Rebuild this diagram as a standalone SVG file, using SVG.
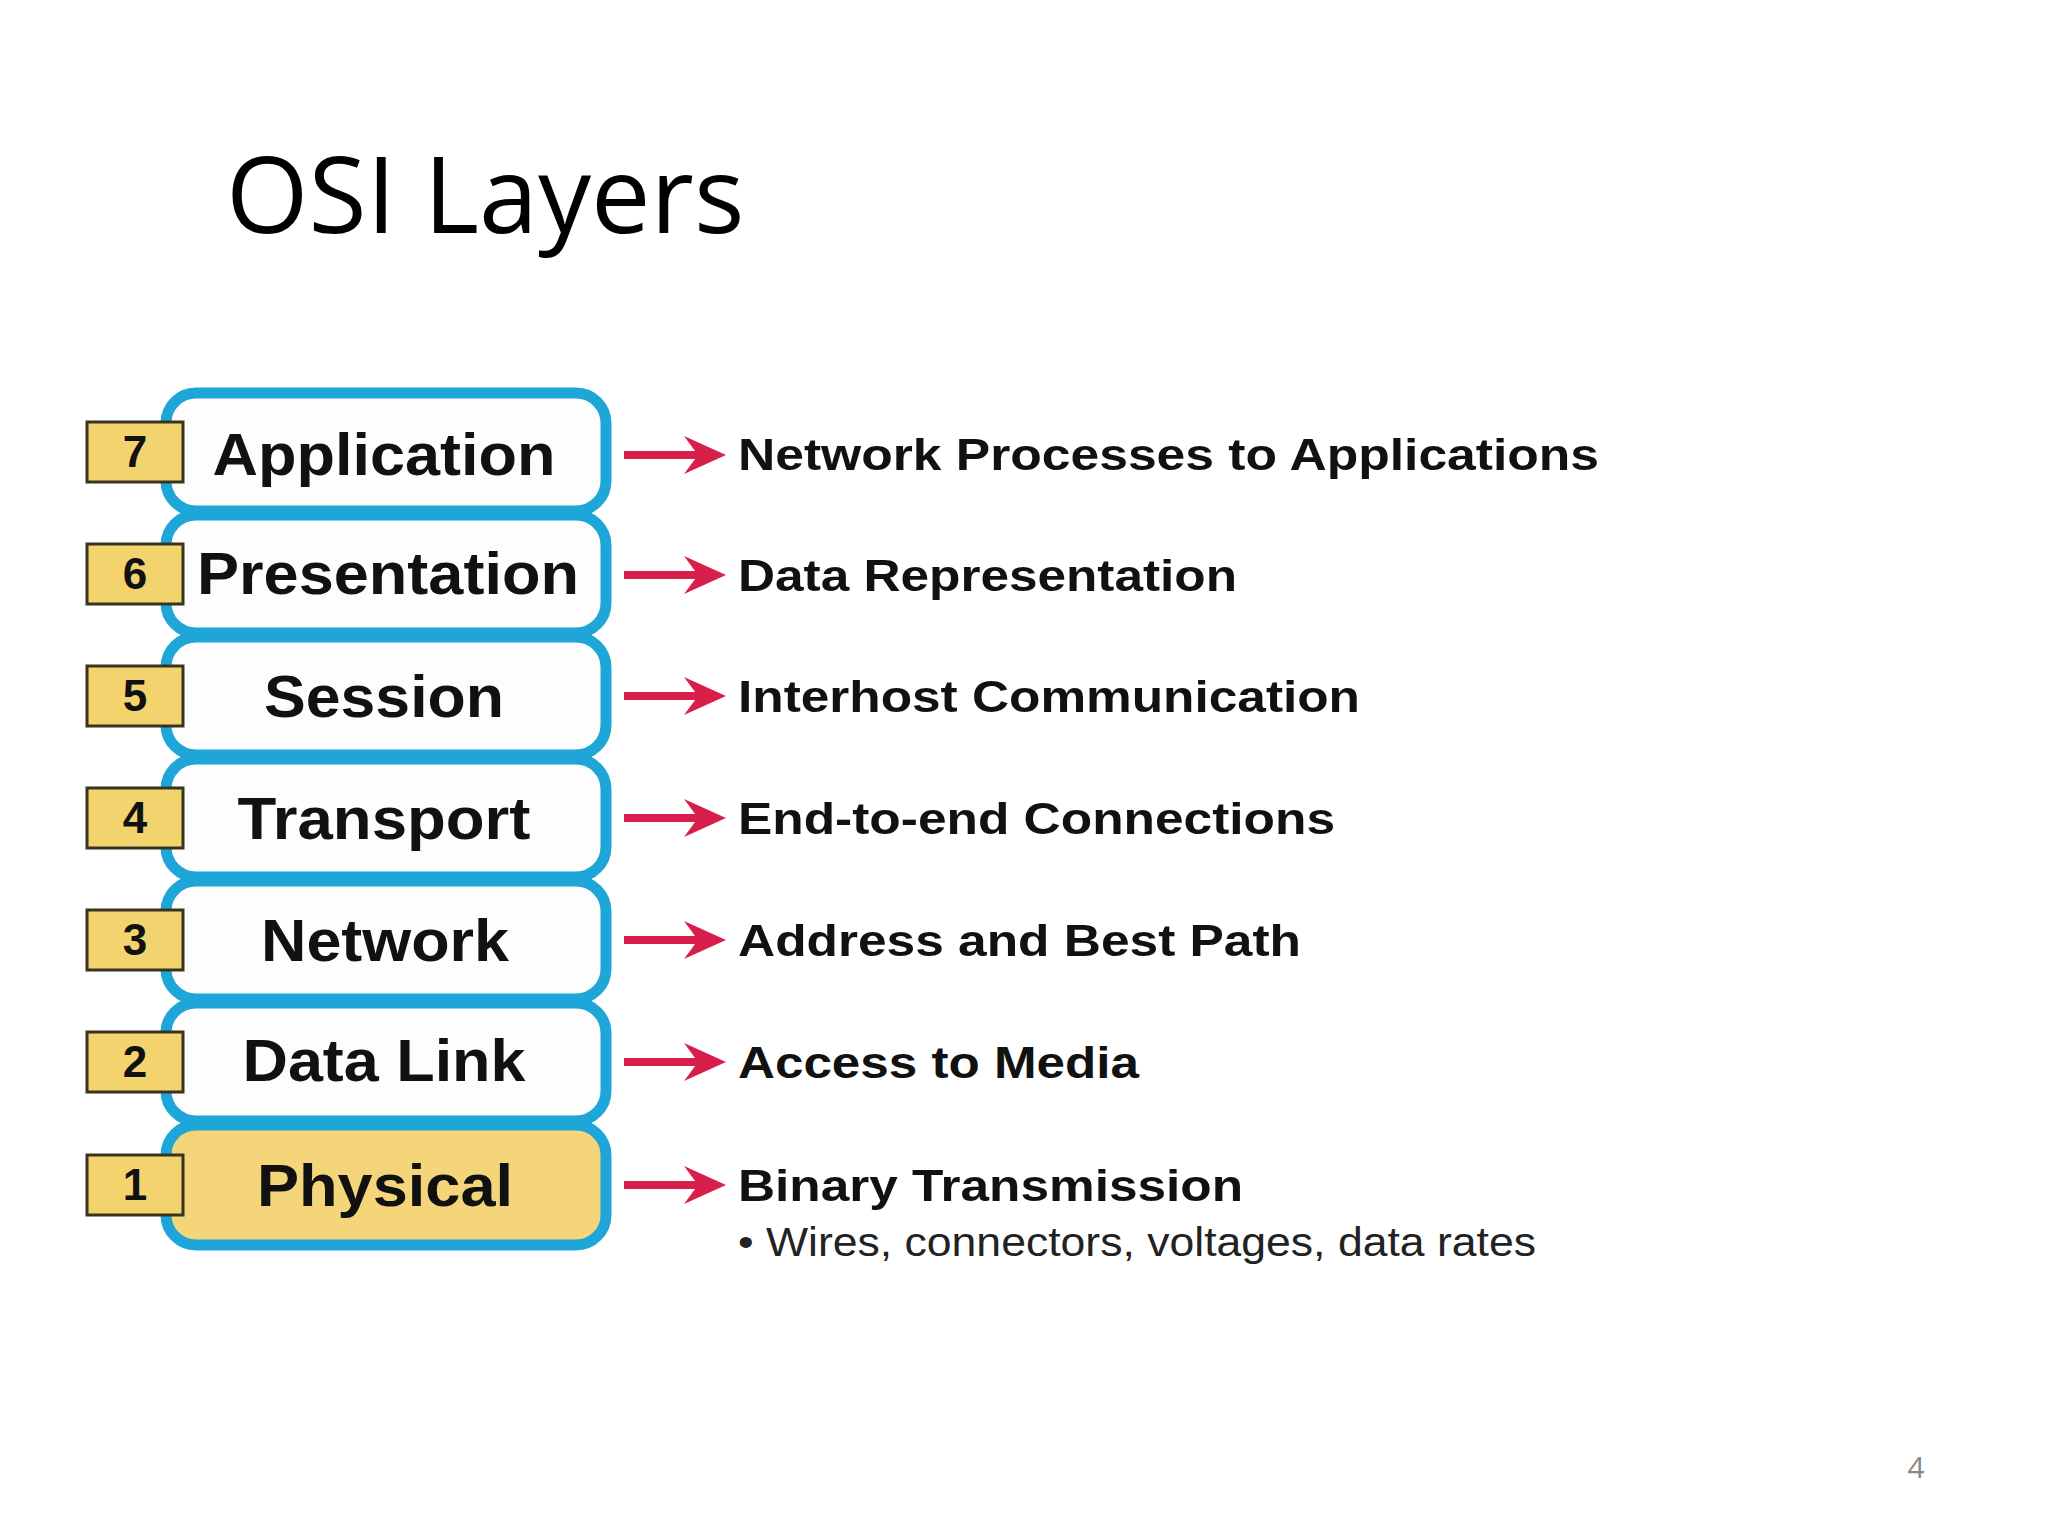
<svg xmlns="http://www.w3.org/2000/svg" width="2048" height="1536" viewBox="0 0 2048 1536">
<style>
.box{stroke:#1ea6d9;stroke-width:11;fill:#fdfdfd}
.num{fill:#f2d36e;stroke:#3a3320;stroke-width:3}
.nt{font-family:"Liberation Sans",Arial,sans-serif;font-weight:bold;font-size:44px;fill:#111;text-anchor:middle}
.lt{font-family:"Liberation Sans",Arial,sans-serif;font-weight:bold;font-size:60px;fill:#111;text-anchor:middle}
.dt{font-family:"Liberation Sans",Arial,sans-serif;font-weight:bold;font-size:45px;fill:#111}
.arr{stroke:#d81f4c;stroke-width:8;fill:none}
.ah{fill:#d81f4c}
</style>
<rect width="2048" height="1536" fill="#ffffff"/>
<text x="226" y="233" font-family="'Open Sans','Liberation Sans',sans-serif" font-size="106" fill="#000">OSI Layers</text>
<g id="layer7"><rect class="box" x="166" y="393" width="440" height="118" rx="30"/><rect class="num" x="87" y="422" width="96" height="60"/><text class="nt" x="135" y="467">7</text><text class="lt" x="384" y="475" textLength="343" lengthAdjust="spacingAndGlyphs">Application</text></g>
<g id="layer6"><rect class="box" x="166" y="515" width="440" height="118" rx="30"/><rect class="num" x="87" y="544" width="96" height="60"/><text class="nt" x="135" y="589">6</text><text class="lt" x="388" y="594" textLength="382" lengthAdjust="spacingAndGlyphs">Presentation</text></g>
<g id="layer5"><rect class="box" x="166" y="637" width="440" height="118" rx="30"/><rect class="num" x="87" y="666" width="96" height="60"/><text class="nt" x="135" y="711">5</text><text class="lt" x="384" y="717" textLength="240" lengthAdjust="spacingAndGlyphs">Session</text></g>
<g id="layer4"><rect class="box" x="166" y="759" width="440" height="118" rx="30"/><rect class="num" x="87" y="788" width="96" height="60"/><text class="nt" x="135" y="833">4</text><text class="lt" x="384" y="839" textLength="293" lengthAdjust="spacingAndGlyphs">Transport</text></g>
<g id="layer3"><rect class="box" x="166" y="881" width="440" height="118" rx="30"/><rect class="num" x="87" y="910" width="96" height="60"/><text class="nt" x="135" y="955">3</text><text class="lt" x="385" y="961" textLength="248" lengthAdjust="spacingAndGlyphs">Network</text></g>
<g id="layer2"><rect class="box" x="166" y="1003" width="440" height="118" rx="30"/><rect class="num" x="87" y="1032" width="96" height="60"/><text class="nt" x="135" y="1077">2</text><text class="lt" x="384" y="1081" textLength="283" lengthAdjust="spacingAndGlyphs">Data Link</text></g>
<g id="layer1"><rect class="box" x="166" y="1125" width="440" height="120" rx="30" style="fill:#f5d57a"/><rect class="num" x="87" y="1155" width="96" height="60"/><text class="nt" x="135" y="1200">1</text><text class="lt" x="385" y="1206" textLength="256" lengthAdjust="spacingAndGlyphs">Physical</text></g>
<g id="connectors">
<line class="arr" x1="624" y1="455" x2="700" y2="455"/><polygon class="ah" points="726,455 684,436 698,455 684,474"/>
<line class="arr" x1="624" y1="575" x2="700" y2="575"/><polygon class="ah" points="726,575 684,556 698,575 684,594"/>
<line class="arr" x1="624" y1="696" x2="700" y2="696"/><polygon class="ah" points="726,696 684,677 698,696 684,715"/>
<line class="arr" x1="624" y1="818" x2="700" y2="818"/><polygon class="ah" points="726,818 684,799 698,818 684,837"/>
<line class="arr" x1="624" y1="940" x2="700" y2="940"/><polygon class="ah" points="726,940 684,921 698,940 684,959"/>
<line class="arr" x1="624" y1="1062" x2="700" y2="1062"/><polygon class="ah" points="726,1062 684,1043 698,1062 684,1081"/>
<line class="arr" x1="624" y1="1185" x2="700" y2="1185"/><polygon class="ah" points="726,1185 684,1166 698,1185 684,1204"/>
</g>
<g id="descriptions">
<text class="dt" x="738" y="470" textLength="861" lengthAdjust="spacingAndGlyphs">Network Processes to Applications</text>
<text class="dt" x="738" y="591" textLength="499" lengthAdjust="spacingAndGlyphs">Data Representation</text>
<text class="dt" x="738" y="712" textLength="622" lengthAdjust="spacingAndGlyphs">Interhost Communication</text>
<text class="dt" x="738" y="834" textLength="597" lengthAdjust="spacingAndGlyphs">End-to-end Connections</text>
<text class="dt" x="738" y="956" textLength="563" lengthAdjust="spacingAndGlyphs">Address and Best Path</text>
<text class="dt" x="738" y="1078" textLength="401" lengthAdjust="spacingAndGlyphs">Access to Media</text>
<text class="dt" x="738" y="1201" textLength="505" lengthAdjust="spacingAndGlyphs">Binary Transmission</text>
<text x="738" y="1256" font-family="'Liberation Sans',Arial,sans-serif" font-size="41" fill="#222" textLength="798" lengthAdjust="spacingAndGlyphs">• Wires, connectors, voltages, data rates</text>
</g>
<text x="1916" y="1478" font-family="'Open Sans','Liberation Sans',sans-serif" font-size="30" fill="#888" text-anchor="middle">4</text>
</svg>
